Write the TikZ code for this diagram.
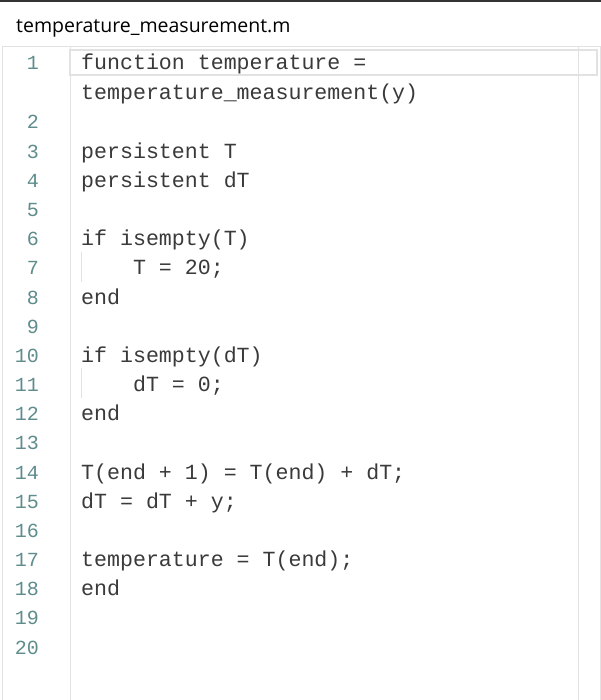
\documentclass[tikz,border=0pt]{standalone}
\usepackage{fontspec}
\setmainfont{Open Sans}
\newfontfamily\codefont{Liberation Mono}
\definecolor{codec}{HTML}{3A3A3A}
\definecolor{numc}{HTML}{5F8C8C}
\definecolor{framec}{HTML}{E2E2E2}
\begin{document}
\begin{tikzpicture}[x=1pt,y=-1pt,
  code/.style={anchor=base west,inner sep=0pt,font=\codefont\fontsize{21.6}{24}\selectfont,text=codec},
  num/.style={anchor=base east,inner sep=0pt,font=\codefont\fontsize{20}{24}\selectfont,text=numc}]
\useasboundingbox (0,0) rectangle (601,700);
\fill[white] (0,0) rectangle (601,700);
\fill[black!80] (0,0) rectangle (601,2);
\node[anchor=base west,inner sep=0pt,font=\fontsize{19.5}{22}\selectfont] (title) at (16,33) {temperature\_measurement.m};
\draw[framec,line width=1pt] (2,700) -- (2,47) -- (600,47) -- (600,700);
\draw[framec,line width=1pt] (70,47) -- (70,700);
\draw[framec,line width=1pt] (578,47) -- (578,700);
\draw[framec,line width=1.2pt] (70,50) rectangle (597,75);
\draw[framec,line width=1pt] (81,252) -- (81,282);
\draw[framec,line width=1pt] (81,368) -- (81,398);
\node[num] (n1) at (39,70) {1};
\node[code] (c1) at (81,70) {function temperature =};
\node[code] (c1b) at (81,100) {temperature\_measurement(y)};
\foreach \n/\t in {2/,3/persistent T,4/persistent dT,5/,6/if isempty(T),7/{\ \ \ \ T = 20;},8/end,9/,10/if isempty(dT),11/{\ \ \ \ dT = 0;},12/end,13/,14/{T(end + 1) = T(end) + dT;},15/{dT = dT + y;},16/,17/{temperature = T(end);},18/end,19/,20/}{
  \node[num] (n\n) at (39,{129+(\n-2)*29.17}) {\n};
  \node[code] (c\n) at (81,{129+(\n-2)*29.17}) {\t};
}
\end{tikzpicture}
\end{document}
